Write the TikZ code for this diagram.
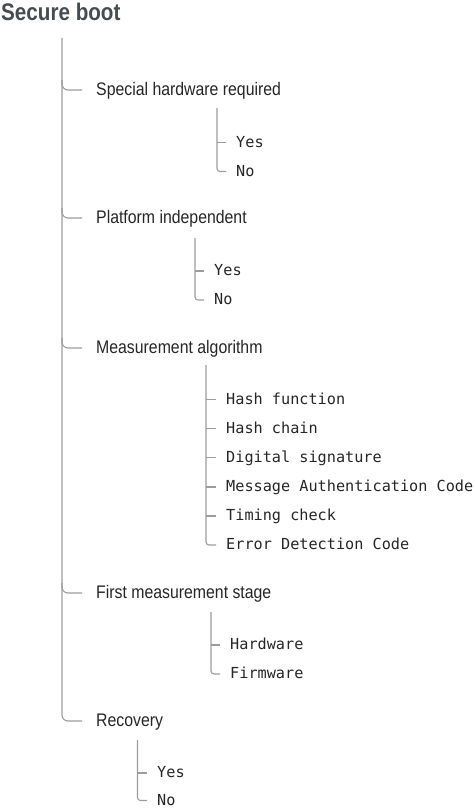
\documentclass[tikz,border=0pt]{standalone}
\usepackage{fontspec}
\usetikzlibrary{calc}
\setmainfont{Liberation Sans}
\newfontfamily\labelfont[FakeStretch=0.87]{Liberation Sans}
\newfontfamily\titlefont[FakeStretch=0.86]{Liberation Sans}
\newfontfamily\codefont{DejaVu Sans Mono}
\definecolor{linegray}{HTML}{9C9C9C}
\definecolor{textcol}{HTML}{262626}
\definecolor{titlecol}{HTML}{464B50}
\begin{document}
\begin{tikzpicture}[x=1pt,y=-1pt,
  line/.style={draw=linegray, line width=1.1pt},
  cat/.style={anchor=west, inner sep=0pt, text height=13.5pt, text depth=3.5pt,
    font=\labelfont\fontsize{18.2}{20}\selectfont, text=textcol},
  leaf/.style={anchor=west, inner sep=0pt, text height=11.5pt, text depth=2pt,
    font=\codefont\fontsize{15.2}{18}\selectfont, text=textcol},
  ttl/.style={anchor=base west, inner sep=0pt,
    font=\titlefont\bfseries\fontsize{24}{27}\selectfont, text=titlecol}]
\useasboundingbox (0,0) rectangle (474,808);

\node[ttl] (title) at (1,21) {Secure boot};
\coordinate (trunk) at (62,38);

% categories
\node[cat] (sp) at (96,90) {Special hardware required};
\node[cat] (pi) at (96,218) {Platform independent};
\node[cat] (ma) at (96,348) {Measurement algorithm};
\node[cat] (fm) at (96,593) {First measurement stage};
\node[cat] (rc) at (96,721) {Recovery};

\foreach \c in {sp,pi,ma,fm}{
  \draw[line, rounded corners=6pt] ($(trunk |- \c.west)+(0,-10)$) |- ([xshift=-14pt]\c.west);
}
\draw[line, rounded corners=6pt] (trunk) |- ([xshift=-14pt]rc.west);

% sub 1
\coordinate (v1) at (217,108);
\node[leaf] (sp1) at (236,142.5) {Yes};
\node[leaf] (sp2) at (236,171.5) {No};
\draw[line] (v1 |- sp1.west) -- ([xshift=-10pt]sp1.west);
\draw[line, rounded corners=3pt] (v1) |- ([xshift=-10pt]sp2.west);

% sub 2
\coordinate (v2) at (195,238);
\node[leaf] (pi1) at (214,271) {Yes};
\node[leaf] (pi2) at (214,300) {No};
\draw[line] (v2 |- pi1.west) -- ([xshift=-10pt]pi1.west);
\draw[line, rounded corners=3pt] (v2) |- ([xshift=-10pt]pi2.west);

% sub 3
\coordinate (v3) at (206,365);
\node[leaf] (ma1) at (226,399.5) {Hash function};
\node[leaf] (ma2) at (226,428.5) {Hash chain};
\node[leaf] (ma3) at (226,457.5) {Digital signature};
\node[leaf] (ma4) at (226,487) {Message Authentication Code};
\node[leaf] (ma5) at (226,516) {Timing check};
\node[leaf] (ma6) at (226,545) {Error Detection Code};
\foreach \c in {ma1,ma2,ma3,ma4,ma5}{
  \draw[line] (v3 |- \c.west) -- ([xshift=-10pt]\c.west);
}
\draw[line, rounded corners=3pt] (v3) |- ([xshift=-10pt]ma6.west);

% sub 4
\coordinate (v4) at (211,612);
\node[leaf] (fm1) at (230,645) {Hardware};
\node[leaf] (fm2) at (230,674) {Firmware};
\draw[line] (v4 |- fm1.west) -- ([xshift=-10pt]fm1.west);
\draw[line, rounded corners=3pt] (v4) |- ([xshift=-10pt]fm2.west);

% sub 5
\coordinate (v5) at (137.5,740);
\node[leaf] (rc1) at (157,773) {Yes};
\node[leaf] (rc2) at (157,800.5) {No};
\draw[line] (v5 |- rc1.west) -- ([xshift=-10pt]rc1.west);
\draw[line, rounded corners=3pt] (v5) |- ([xshift=-10pt]rc2.west);
\end{tikzpicture}
\end{document}
